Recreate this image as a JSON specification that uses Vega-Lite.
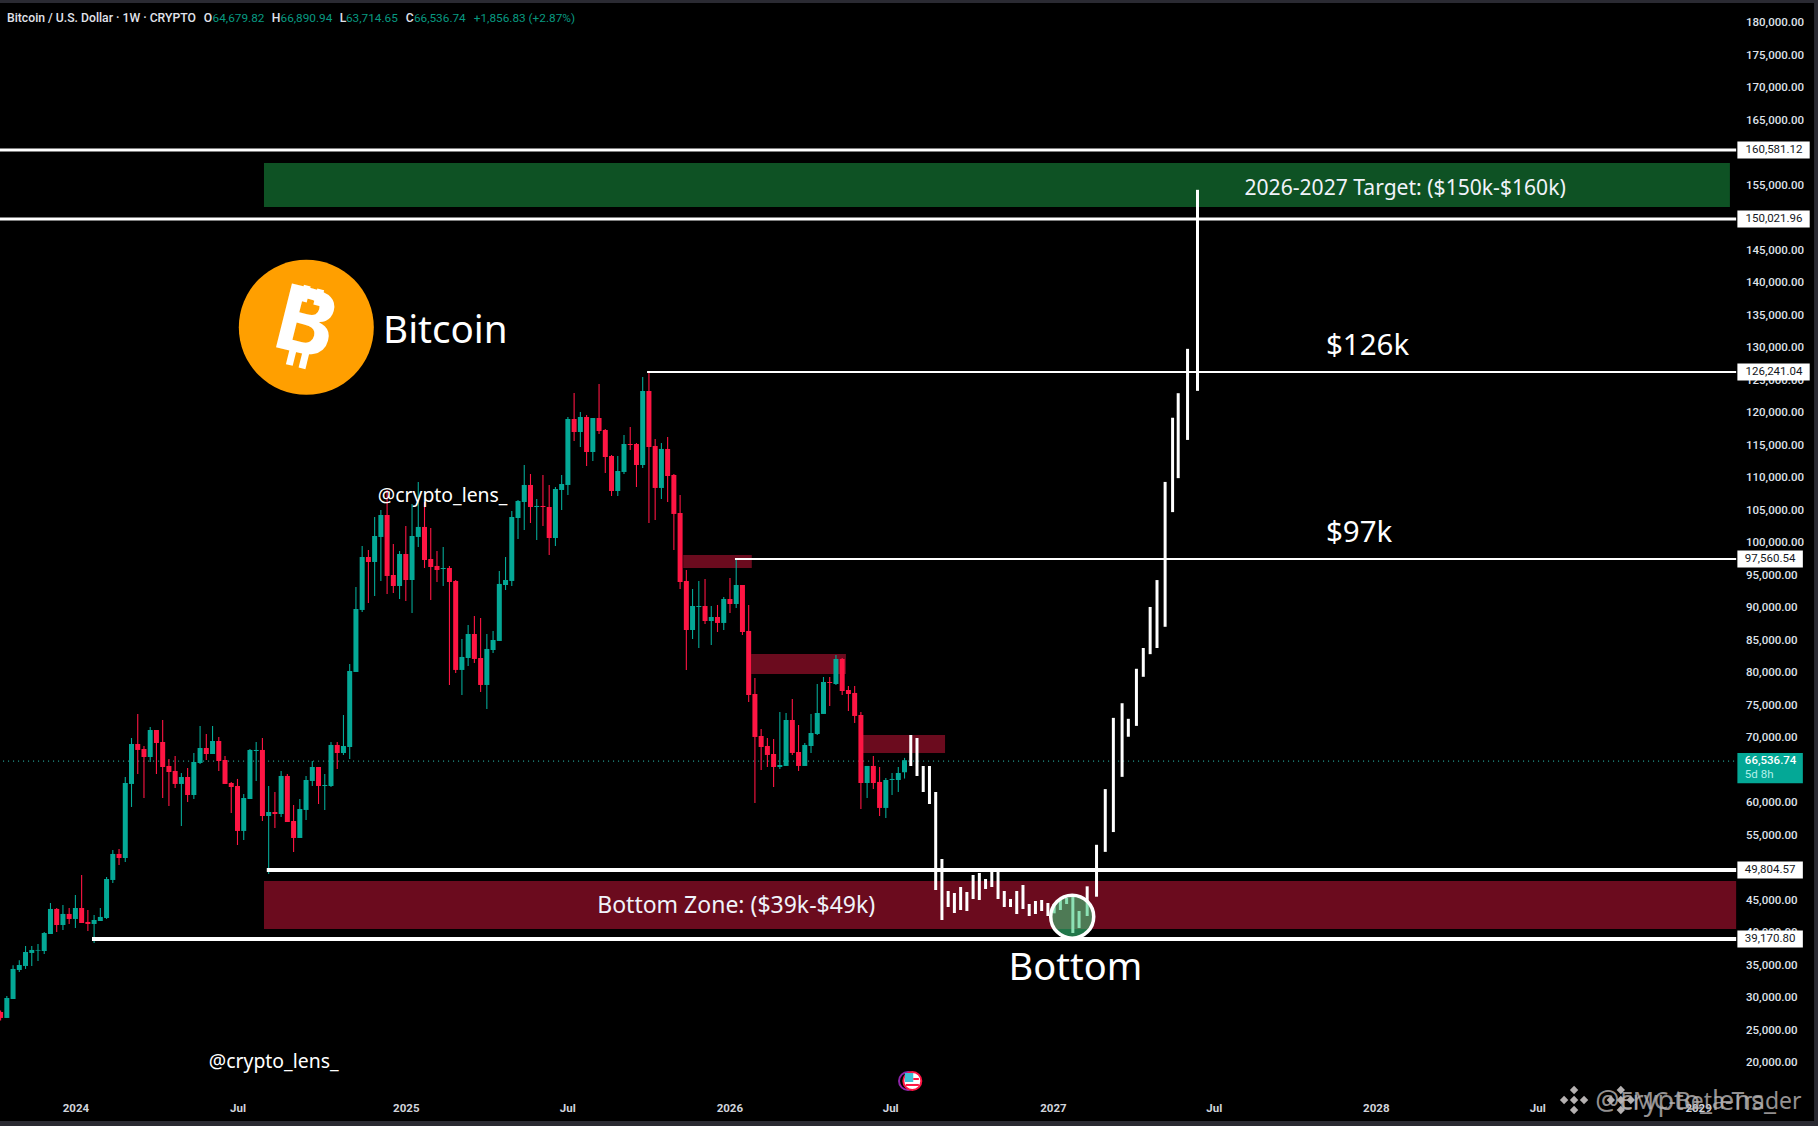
{
  "$schema": "https://vega.github.io/schema/vega-lite/v6.json",
  "width": 1818,
  "height": 1126,
  "autosize": "none",
  "padding": 0,
  "background": "#000000",
  "config": {"view": {"stroke": null}, "text": {"font": "Noto Sans"}},
  "datasets": {
    "candles": [
      {"week":-12,"open":27800,"close":26880,"high":28010,"low":26470},
      {"week":-11,"open":26880,"close":29950,"high":30260,"low":26880},
      {"week":-10,"open":29800,"close":34420,"high":34980,"low":29800},
      {"week":-9,"open":34260,"close":35030,"high":35750,"low":33950},
      {"week":-8,"open":34880,"close":37030,"high":37950,"low":34420},
      {"week":-7,"open":36880,"close":37340,"high":37950,"low":34880},
      {"week":-6,"open":37240,"close":37340,"high":38260,"low":35650},
      {"week":-5,"open":37180,"close":39950,"high":40110,"low":36720},
      {"week":-4,"open":39800,"close":43650,"high":44570,"low":39800},
      {"week":-3,"open":43650,"close":41180,"high":43800,"low":40110},
      {"week":-2,"open":41180,"close":42880,"high":44260,"low":40420},
      {"week":-1,"open":42880,"close":42110,"high":43800,"low":41340},
      {"week":0,"open":42110,"close":43800,"high":45800,"low":40720},
      {"week":1,"open":43800,"close":41490,"high":48880,"low":41490},
      {"week":2,"open":41650,"close":41340,"high":43490,"low":40260},
      {"week":3,"open":41340,"close":41950,"high":42720,"low":38420},
      {"week":4,"open":41800,"close":42420,"high":43800,"low":41800},
      {"week":5,"open":42260,"close":48260,"high":48570,"low":42110},
      {"week":6,"open":48110,"close":52110,"high":52720,"low":47650},
      {"week":7,"open":52110,"close":51490,"high":52880,"low":50410},
      {"week":8,"open":51490,"close":63030,"high":63950,"low":50880},
      {"week":9,"open":62880,"close":69030,"high":69950,"low":59340},
      {"week":10,"open":69030,"close":68110,"high":73640,"low":64410},
      {"week":11,"open":68260,"close":67030,"high":68720,"low":60720},
      {"week":12,"open":67030,"close":71180,"high":71640,"low":66260},
      {"week":13,"open":71180,"close":69180,"high":71180,"low":64410},
      {"week":14,"open":69340,"close":65490,"high":72720,"low":60720},
      {"week":15,"open":65650,"close":64720,"high":66720,"low":59490},
      {"week":16,"open":64880,"close":62880,"high":67180,"low":62260},
      {"week":17,"open":62880,"close":63950,"high":64570,"low":56410},
      {"week":18,"open":63950,"close":61180,"high":65340,"low":60110},
      {"week":19,"open":61180,"close":66260,"high":67640,"low":60570},
      {"week":20,"open":66110,"close":68410,"high":71800,"low":65950},
      {"week":21,"open":68410,"close":67490,"high":70570,"low":66570},
      {"week":22,"open":67490,"close":69490,"high":71800,"low":67490},
      {"week":23,"open":69490,"close":66410,"high":70110,"low":64880},
      {"week":24,"open":66570,"close":62880,"high":67180,"low":62880},
      {"week":25,"open":63030,"close":62410,"high":63180,"low":58410},
      {"week":26,"open":62570,"close":55650,"high":63650,"low":53490},
      {"week":27,"open":55650,"close":60720,"high":61340,"low":54260},
      {"week":28,"open":60570,"close":68110,"high":68260,"low":60570},
      {"week":29,"open":67950,"close":68110,"high":69340,"low":63340},
      {"week":30,"open":68110,"close":57950,"high":69950,"low":57180},
      {"week":31,"open":57950,"close":58570,"high":62570,"low":49030},
      {"week":32,"open":58570,"close":58260,"high":61650,"low":56110},
      {"week":33,"open":58260,"close":64110,"high":64880,"low":57800},
      {"week":34,"open":64110,"close":57030,"high":64410,"low":57030},
      {"week":35,"open":57180,"close":54570,"high":59650,"low":52410},
      {"week":36,"open":54570,"close":59030,"high":60570,"low":54570},
      {"week":37,"open":58880,"close":63490,"high":64110,"low":57340},
      {"week":38,"open":63340,"close":65490,"high":66410,"low":62570},
      {"week":39,"open":65490,"close":62570,"high":65490,"low":59800},
      {"week":40,"open":62570,"close":62720,"high":64410,"low":58880},
      {"week":41,"open":62570,"close":68880,"high":69340,"low":62410},
      {"week":42,"open":68880,"close":67640,"high":69340,"low":65180},
      {"week":43,"open":67640,"close":68720,"high":73490,"low":67340},
      {"week":44,"open":68570,"close":80260,"high":81340,"low":66720},
      {"week":45,"open":80110,"close":89800,"high":93190,"low":80110},
      {"week":46,"open":89650,"close":97800,"high":99490,"low":89340},
      {"week":47,"open":97800,"close":97030,"high":98880,"low":90720},
      {"week":48,"open":97030,"close":101030,"high":103950,"low":91800},
      {"week":49,"open":100880,"close":104260,"high":105030,"low":94110},
      {"week":50,"open":104260,"close":94880,"high":108110,"low":92110},
      {"week":51,"open":95030,"close":93340,"high":99800,"low":92260},
      {"week":52,"open":93340,"close":98260,"high":98720,"low":91340},
      {"week":53,"open":98260,"close":94260,"high":102570,"low":91030},
      {"week":54,"open":94260,"close":101030,"high":105950,"low":89190},
      {"week":55,"open":100880,"close":102420,"high":109340,"low":99340},
      {"week":56,"open":102420,"close":97340,"high":106260,"low":96110},
      {"week":57,"open":97490,"close":96260,"high":102260,"low":91190},
      {"week":58,"open":96420,"close":95800,"high":98720,"low":93950},
      {"week":59,"open":95950,"close":96110,"high":99340,"low":93340},
      {"week":60,"open":96110,"close":93950,"high":96420,"low":78110},
      {"week":61,"open":94110,"close":80420,"high":94260,"low":79950},
      {"week":62,"open":80420,"close":82420,"high":85190,"low":76570},
      {"week":63,"open":82260,"close":85950,"high":87340,"low":81030},
      {"week":64,"open":85950,"close":82110,"high":88720,"low":81490},
      {"week":65,"open":82260,"close":78110,"high":88420,"low":77030},
      {"week":66,"open":78110,"close":83650,"high":85950,"low":74420},
      {"week":67,"open":83490,"close":85030,"high":86420,"low":83030},
      {"week":68,"open":84880,"close":93650,"high":95650,"low":84880},
      {"week":69,"open":93490,"close":94260,"high":97800,"low":92720},
      {"week":70,"open":94110,"close":103950,"high":104880,"low":93340},
      {"week":71,"open":103800,"close":106420,"high":106570,"low":100570},
      {"week":72,"open":106260,"close":108880,"high":111950,"low":101950},
      {"week":73,"open":108880,"close":105490,"high":110570,"low":103030},
      {"week":74,"open":105490,"close":105650,"high":106720,"low":100420},
      {"week":75,"open":105650,"close":105490,"high":110420,"low":102570},
      {"week":76,"open":105490,"close":100720,"high":108880,"low":98110},
      {"week":77,"open":100720,"close":108260,"high":108570,"low":99490},
      {"week":78,"open":108110,"close":109030,"high":110420,"low":105030},
      {"week":79,"open":108880,"close":119030,"high":119340,"low":107340},
      {"week":80,"open":119030,"close":117030,"high":123030,"low":115650},
      {"week":81,"open":117030,"close":119340,"high":120110,"low":114720},
      {"week":82,"open":119340,"close":113950,"high":119650,"low":111800},
      {"week":83,"open":113950,"close":119180,"high":119180,"low":112570},
      {"week":84,"open":119180,"close":117180,"high":124410,"low":116720},
      {"week":85,"open":117340,"close":113180,"high":117490,"low":110720},
      {"week":86,"open":113340,"close":107950,"high":113490,"low":107180},
      {"week":87,"open":107950,"close":111030,"high":113340,"low":107180},
      {"week":88,"open":110880,"close":115180,"high":116570,"low":110570},
      {"week":89,"open":115180,"close":115030,"high":117800,"low":114260},
      {"week":90,"open":115180,"close":111950,"high":115340,"low":108570},
      {"week":91,"open":111950,"close":123340,"high":125490,"low":111490},
      {"week":92,"open":123340,"close":114720,"high":126110,"low":103030},
      {"week":93,"open":114880,"close":108420,"high":115950,"low":103490},
      {"week":94,"open":108420,"close":114420,"high":115340,"low":106720},
      {"week":95,"open":114420,"close":110260,"high":116260,"low":106260},
      {"week":96,"open":110420,"close":104420,"high":110570,"low":98880},
      {"week":97,"open":104570,"close":93950,"high":107340,"low":92880},
      {"week":98,"open":94110,"close":86570,"high":95800,"low":80420},
      {"week":99,"open":86570,"close":90260,"high":92880,"low":85190},
      {"week":100,"open":90110,"close":90260,"high":94110,"low":83800},
      {"week":101,"open":90260,"close":87950,"high":94420,"low":87490},
      {"week":102,"open":87950,"close":88570,"high":90260,"low":84260},
      {"week":103,"open":88570,"close":87650,"high":90420,"low":86260},
      {"week":104,"open":87650,"close":91340,"high":91650,"low":86570},
      {"week":105,"open":91340,"close":90570,"high":94570,"low":89190},
      {"week":106,"open":90570,"close":93490,"high":97650,"low":89950},
      {"week":107,"open":93490,"close":86260,"high":93490,"low":85800},
      {"week":108,"open":86420,"close":76570,"high":90420,"low":75490},
      {"week":109,"open":76720,"close":70110,"high":79180,"low":59950},
      {"week":110,"open":70260,"close":68570,"high":71340,"low":65030},
      {"week":111,"open":68720,"close":67340,"high":69950,"low":65490},
      {"week":112,"open":67490,"close":65490,"high":69800,"low":62420},
      {"week":113,"open":65490,"close":65800,"high":73950,"low":65190},
      {"week":114,"open":65650,"close":72720,"high":73800,"low":65650},
      {"week":115,"open":72720,"close":67650,"high":75950,"low":67340},
      {"week":116,"open":67800,"close":65650,"high":71950,"low":64880},
      {"week":117,"open":65650,"close":68880,"high":69180,"low":65650},
      {"week":118,"open":68720,"close":70720,"high":73650,"low":67650},
      {"week":119,"open":70570,"close":73800,"high":78260,"low":70420},
      {"week":120,"open":73650,"close":78570,"high":79340,"low":73650},
      {"week":121,"open":78570,"close":78420,"high":79340,"low":74880},
      {"week":122,"open":78260,"close":82110,"high":82720,"low":78110},
      {"week":123,"open":82110,"close":77180,"high":82260,"low":76570},
      {"week":124,"open":77340,"close":76720,"high":77950,"low":74110},
      {"week":125,"open":76880,"close":73340,"high":77950,"low":72260},
      {"week":126,"open":73490,"close":63030,"high":73950,"low":59030},
      {"week":127,"open":63030,"close":65650,"high":65650,"low":60720},
      {"week":128,"open":65650,"close":63030,"high":67190,"low":62110},
      {"week":129,"open":63190,"close":59190,"high":65490,"low":57950},
      {"week":130,"open":59190,"close":63490,"high":63800,"low":57650},
      {"week":131,"open":63490,"close":63650,"high":64570,"low":61190},
      {"week":132,"open":63490,"close":64570,"high":65490,"low":61650},
      {"week":133,"open":64680,"close":66537,"high":66891,"low":63715}
    ],
    "projection": [
      {"week":134,"high":70415,"low":65646},
      {"week":135,"high":69951,"low":64105},
      {"week":136,"high":65643,"low":61643},
      {"week":137,"high":65643,"low":59797},
      {"week":138,"high":61643,"low":46567},
      {"week":139,"high":51336,"low":41952},
      {"week":140,"high":46413,"low":43952},
      {"week":141,"high":46106,"low":43029},
      {"week":142,"high":47029,"low":43490},
      {"week":143,"high":46260,"low":43337},
      {"week":144,"high":48875,"low":45183},
      {"week":145,"high":49183,"low":45029},
      {"week":146,"high":48260,"low":46722},
      {"week":147,"high":49336,"low":47029},
      {"week":148,"high":49336,"low":45183},
      {"week":149,"high":46413,"low":43952},
      {"week":150,"high":45183,"low":43952},
      {"week":151,"high":46413,"low":42875},
      {"week":152,"high":47336,"low":43644},
      {"week":153,"high":44413,"low":42567},
      {"week":154,"high":44875,"low":42875},
      {"week":155,"high":45029,"low":43337},
      {"week":156,"high":44567,"low":42567},
      {"week":157,"high":44413,"low":42977},
      {"week":158,"high":45183,"low":43490},
      {"week":159,"high":45336,"low":44413},
      {"week":160,"high":45490,"low":39952},
      {"week":161,"high":43337,"low":40721},
      {"week":162.3,"high":47129,"low":42567},
      {"week":163.8,"high":53520,"low":45534},
      {"week":165.2,"high":62087,"low":52431},
      {"week":166.5,"high":73049,"low":55480},
      {"week":167.9,"high":75300,"low":63974},
      {"week":168.9,"high":72904,"low":70145},
      {"week":170.2,"high":80600,"low":71815},
      {"week":171.3,"high":83794,"low":79366},
      {"week":172.4,"high":90110,"low":82850},
      {"week":173.5,"high":94249,"low":83794},
      {"week":174.8,"high":109349,"low":87061},
      {"week":176,"high":119223,"low":104703},
      {"week":176.9,"high":122998,"low":109930},
      {"week":178.4,"high":129823,"low":115811},
      {"week":180,"high":154289,"low":123361}
    ],
    "zones": [
      {"week":30.25,"week2":266.4,"price":47950,"price2":40566,"colour":"red"},
      {"week":97.5,"week2":108.5,"price":98105,"price2":96105,"colour":"red"},
      {"week":108.4,"week2":123.6,"price":82875,"price2":79798,"colour":"red"},
      {"week":126.3,"week2":139.5,"price":70414,"price2":67645,"colour":"red"},
      {"week":30.25,"week2":265.4,"price":158415,"price2":151646,"colour":"green"}
    ],
    "levels": [
      {"price":160400,"week":-12.1,"week2":266.4},
      {"price":149800,"week":-12.1,"week2":266.4},
      {"price":126241,"week":91.7,"week2":266.4},
      {"price":97490,"week":105.8,"week2":266.4},
      {"price":49650,"week":30.7,"week2":266.4},
      {"price":39030,"week":2.66,"week2":266.4}
    ],
    "tags": [
      {"price":160400,"week":266.6,"week2":278.2,"text_week":267.9,"label":"160,581.12"},
      {"price":149800,"week":266.6,"week2":278.2,"text_week":267.9,"label":"150,021.96"},
      {"price":126241,"week":266.6,"week2":278.2,"text_week":267.9,"label":"126,241.04"},
      {"price":97490,"week":266.6,"week2":277.1,"text_week":267.8,"label":"97,560.54"},
      {"price":49650,"week":266.6,"week2":277.1,"text_week":267.8,"label":"49,804.57"},
      {"price":39030,"week":266.6,"week2":277.1,"text_week":267.8,"label":"39,170.80"}
    ]
  },
  "encoding": {
    "x": {
      "field": "week",
      "type": "quantitative",
      "scale": {"domain": [-12.095, 279.53], "nice": false, "zero": false},
      "axis": {
        "orient": "bottom",
        "title": null,
        "grid": false,
        "ticks": false,
        "domain": false,
        "values": [0, 26, 53, 78.9, 104.9, 130.7, 156.8, 182.6, 208.6, 234.5, 260.3],
        "labelExpr": "['2024','Jul','2025','Jul','2026','Jul','2027','Jul','2028','Jul','2029'][indexof([0,26,53,78.9,104.9,130.7,156.8,182.6,208.6,234.5,260.3],datum.value)]",
        "labelPadding": -18,
        "labelBaseline": "middle",
        "labelOverlap": false,
        "labelBound": false,
        "labelFlush": false,
        "labelColor": "#d1d4dc",
        "labelFont": "Roboto",
        "labelFontSize": 11.5,
        "labelFontWeight": {"condition": {"test": "datum.label != 'Jul'", "value": "bold"}, "value": "normal"}
      }
    },
    "y": {
      "field": "price",
      "type": "quantitative",
      "scale": {"domain": [10257, 183492], "nice": false, "zero": false},
      "axis": {
        "orient": "right",
        "title": null,
        "grid": false,
        "ticks": false,
        "domain": false,
        "values": [180000,175000,170000,165000,155000,145000,140000,135000,130000,125000,120000,115000,110000,105000,100000,95000,90000,85000,80000,75000,70000,60000,55000,45000,40000,35000,30000,25000,20000],
        "format": ",.2f",
        "labelPadding": -72.5,
        "labelAlign": "left",
        "labelOverlap": false,
        "labelBound": false,
        "labelFlush": false,
        "labelColor": "#dfe2ea",
        "labelFont": "Roboto",
        "labelFontSize": 11.5,
        "labelFontWeight": 500
      }
    }
  },
  "layer": [
    {
      "data": {"name": "zones"},
      "mark": {"type": "rect"},
      "encoding": {
        "x2": {"field": "week2"},
        "y2": {"field": "price2"},
        "color": {"field": "colour", "type": "nominal", "scale": {"domain": ["red", "green"], "range": ["#6b0b1e", "#0e5224"]}, "legend": null}
      }
    },
    {
      "data": {"values": [{"week": -11.6, "week2": 266.4, "price": 66400}]},
      "mark": {"type": "rule", "color": "#26a69a", "strokeWidth": 1.2, "strokeDash": [1, 4]},
      "encoding": {"x2": {"field": "week2"}}
    },
    {
      "data": {"name": "candles"},
      "mark": {"type": "rule", "strokeWidth": 1.1},
      "encoding": {
        "y": {"field": "low", "type": "quantitative", "title": null},
        "y2": {"field": "high"},
        "color": {"condition": {"test": "datum.close >= datum.open", "value": "#04a896"}, "value": "#fe1543"}
      }
    },
    {
      "data": {"name": "candles"},
      "mark": {"type": "rule", "strokeWidth": 5},
      "encoding": {
        "y": {"field": "open", "type": "quantitative", "title": null},
        "y2": {"field": "close"},
        "color": {"condition": {"test": "datum.close >= datum.open", "value": "#04a896"}, "value": "#fe1543"}
      }
    },
    {
      "data": {"name": "projection"},
      "mark": {"type": "rule", "strokeWidth": 3, "color": "#ffffff"},
      "encoding": {
        "y": {"field": "low", "type": "quantitative", "title": null},
        "y2": {"field": "high"}
      }
    },
    {
      "data": {"values": [{"week": 159.9, "price": 42465}]},
      "mark": {"type": "point", "shape": "circle", "filled": false, "fill": "#39cb7e", "fillOpacity": 0.58, "stroke": "#ffffff", "strokeWidth": 3.5, "size": 1849}
    },
    {
      "data": {"name": "levels"},
      "mark": {"type": "rule", "color": "#ffffff"},
      "encoding": {
        "x2": {"field": "week2"},
        "strokeWidth": {
          "condition": [
            {"test": "datum.price < 60000", "value": 4},
            {"test": "datum.price < 130000", "value": 2}
          ],
          "value": 3
        }
      }
    },
    {
      "data": {"name": "tags"},
      "mark": {"type": "rule", "color": "#ffffff", "strokeWidth": 17},
      "encoding": {"x2": {"field": "week2"}}
    },
    {
      "data": {"name": "tags"},
      "mark": {"type": "text", "font": "Roboto", "fontSize": 11.5, "align": "left", "color": "#131722"},
      "encoding": {"x": {"field": "text_week", "type": "quantitative", "title": null}, "text": {"field": "label"}}
    },
    {
      "data": {"values": [{"week": 266.6, "week2": 277.1, "price": 67642, "price2": 62982}]},
      "mark": {"type": "rect", "color": "#04a896"},
      "encoding": {"x2": {"field": "week2"}, "y2": {"field": "price2"}}
    },
    {
      "data": {"values": [{"week": 267.8, "price": 66460, "label": "66,536.74"}]},
      "mark": {"type": "text", "font": "Roboto", "fontSize": 11.5, "fontWeight": 500, "align": "left", "color": "#ffffff"},
      "encoding": {"text": {"field": "label"}}
    },
    {
      "data": {"values": [{"week": 267.8, "price": 64259, "label": "5d 8h"}]},
      "mark": {"type": "text", "font": "Roboto", "fontSize": 11.5, "align": "left", "color": "#b2f0ea"},
      "encoding": {"text": {"field": "label"}}
    },
    {
      "data": {"values": [{"week": 37.04, "price": 133137}]},
      "mark": {"type": "point", "shape": "circle", "filled": true, "color": "#ff9f00", "opacity": 1, "size": 18225}
    },
    {
      "data": {"values": [
        {"week": 37.2, "week2": 36.56, "price": 139537, "price2": 137076},
        {"week": 39.35, "week2": 38.71, "price": 138983, "price2": 136522},
        {"week": 34.31, "week2": 34.95, "price": 127337, "price2": 129799},
        {"week": 36.35, "week2": 36.99, "price": 126829, "price2": 129338}
      ]},
      "mark": {"type": "rule", "color": "#ffffff", "strokeWidth": 7},
      "encoding": {"x2": {"field": "week2"}, "y2": {"field": "price2"}}
    },
    {
      "data": {"values": [{"week": 36.83, "price": 133400, "label": "B"}]},
      "mark": {"type": "text", "fontWeight": "bold", "fontSize": 92, "angle": 14, "color": "#ffffff"},
      "encoding": {"text": {"field": "label"}}
    },
    {
      "data": {"values": [{"week": 49.35, "price": 132600, "label": "Bitcoin"}]},
      "mark": {"type": "text", "fontSize": 38.6, "align": "left", "color": "#ffffff"},
      "encoding": {"text": {"field": "label"}}
    },
    {
      "data": {"values": [
        {"week": 200.6, "price": 130300, "label": "$126k"},
        {"week": 200.6, "price": 101500, "label": "$97k"}
      ]},
      "mark": {"type": "text", "fontSize": 29.5, "align": "left", "color": "#ffffff"},
      "encoding": {"text": {"field": "label"}}
    },
    {
      "data": {"values": [{"week": 160.4, "price": 34400, "label": "Bottom"}]},
      "mark": {"type": "text", "fontSize": 38, "color": "#ffffff"},
      "encoding": {"text": {"field": "label"}}
    },
    {
      "data": {"values": [{"week": 106, "price": 44030, "label": "Bottom Zone: ($39k-$49k)"}]},
      "mark": {"type": "text", "fontSize": 23, "color": "#f0f3fa"},
      "encoding": {"text": {"field": "label"}}
    },
    {
      "data": {"values": [{"week": 213.3, "price": 154430, "label": "2026-2027 Target: ($150k-$160k)"}]},
      "mark": {"type": "text", "fontSize": 21.1, "color": "#f0f3fa"},
      "encoding": {"text": {"field": "label"}}
    },
    {
      "data": {"values": [
        {"week": 48.5, "price": 107200, "label": "@crypto_lens_"},
        {"week": 21.4, "price": 20100, "label": "@crypto_lens_"}
      ]},
      "mark": {"type": "text", "fontSize": 19.4, "align": "left", "color": "#ffffff"},
      "encoding": {"text": {"field": "label"}}
    },
    {
      "data": {"values": [
        {"week": -10.97, "price": 180769, "label": "Bitcoin / U.S. Dollar · 1W · CRYPTO"},
        {"week": 20.6, "price": 180769, "label": "O"},
        {"week": 31.5, "price": 180769, "label": "H"},
        {"week": 42.4, "price": 180769, "label": "L"},
        {"week": 53, "price": 180769, "label": "C"}
      ]},
      "mark": {"type": "text", "font": "Roboto", "fontSize": 12.2, "fontWeight": 500, "align": "left", "color": "#e0e3eb"},
      "encoding": {"text": {"field": "label"}}
    },
    {
      "data": {"values": [
        {"week": 22, "price": 180769, "label": "64,679.82"},
        {"week": 32.9, "price": 180769, "label": "66,890.94"},
        {"week": 43.4, "price": 180769, "label": "63,714.65"},
        {"week": 54.3, "price": 180769, "label": "66,536.74"},
        {"week": 63.9, "price": 180769, "label": "+1,856.83 (+2.87%)"}
      ]},
      "mark": {"type": "text", "font": "Roboto", "fontSize": 11.8, "align": "left", "color": "#089981"},
      "encoding": {"text": {"field": "label"}}
    },
    {
      "data": {"values": [{"week": 133.56, "price": 17180}]},
      "mark": {"type": "point", "shape": "circle", "filled": false, "fill": "#000000", "fillOpacity": 1, "stroke": "#8e24aa", "strokeWidth": 2, "size": 324}
    },
    {
      "data": {"values": [{"week": 134.25, "price": 17180}]},
      "mark": {"type": "point", "shape": "circle", "filled": false, "fill": "#ffffff", "fillOpacity": 1, "stroke": "#fe1543", "strokeWidth": 2, "size": 324}
    },
    {
      "data": {"values": [{"week": 133.05, "week2": 134.4, "price": 18410, "price2": 17030}]},
      "mark": {"type": "rect", "color": "#3fc1d6"},
      "encoding": {"x2": {"field": "week2"}, "y2": {"field": "price2"}}
    },
    {
      "data": {"values": [{"week": 133.2, "week2": 135.3, "price": 16570}, {"week": 134.4, "week2": 135.3, "price": 17490}]},
      "mark": {"type": "rule", "color": "#fe1543", "strokeWidth": 2},
      "encoding": {"x2": {"field": "week2"}}
    },
    {
      "data": {"values": [
        {"week": 240.4, "price": 14260}, {"week": 238.8, "price": 14260}, {"week": 242, "price": 14260}, {"week": 240.4, "price": 15800}, {"week": 240.4, "price": 12720},
        {"week": 247.9, "price": 14260}, {"week": 246.3, "price": 14260}, {"week": 249.5, "price": 14260}, {"week": 247.9, "price": 15800}, {"week": 247.9, "price": 12720}
      ]},
      "mark": {"type": "point", "shape": "diamond", "filled": true, "color": "#c9c4c4", "opacity": 0.9, "size": 70}
    },
    {
      "data": {"values": [{"week": 243.8, "price": 13950, "label": "@crypto_lens_"}]},
      "mark": {"type": "text", "fontSize": 27, "align": "left", "color": "#b8b4b4", "opacity": 0.8},
      "encoding": {"text": {"field": "label"}}
    },
    {
      "data": {"values": [{"week": 247.8, "price": 13950, "label": "EMC-Beta-Trader"}]},
      "mark": {"type": "text", "fontSize": 23, "align": "left", "color": "#b8b4b4", "opacity": 0.8},
      "encoding": {"text": {"field": "label"}}
    },
    {
      "data": {"values": [
        {"week": -12.095, "week2": 279.53, "price": 183492, "price2": 183030},
        {"week": -12.095, "week2": 279.53, "price": 11026, "price2": 10257},
        {"week": 278.9, "week2": 279.53, "price": 183492, "price2": 10257}
      ]},
      "mark": {"type": "rect", "color": "#2a2a32"},
      "encoding": {"x2": {"field": "week2"}, "y2": {"field": "price2"}}
    }
  ]
}
